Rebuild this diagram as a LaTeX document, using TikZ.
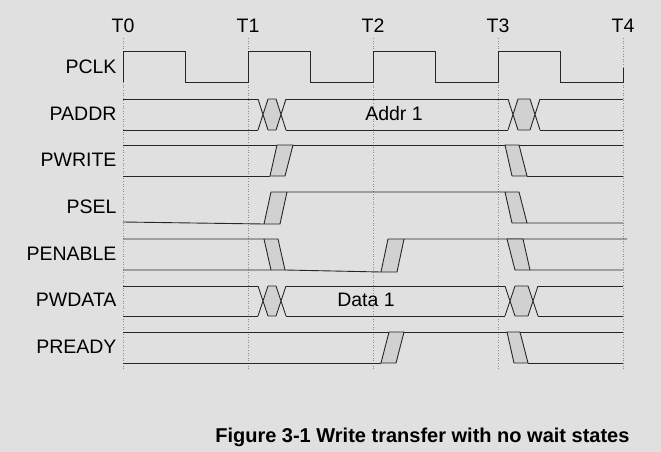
\documentclass[tikz,border=0pt]{standalone}
\usepackage{fontspec}
\setmainfont{Liberation Sans}
\begin{document}
\begin{tikzpicture}[x=1pt,y=-1pt,
  sig/.style={draw=black!85,line width=0.9pt},
  gr/.style={fill=black!18,draw=black!85,line width=0.9pt,line join=round},
  grid/.style={draw=black!45,dotted,line width=0.6pt},
  lbl/.style={anchor=east,font=\fontsize{19.5}{22}\selectfont},
  tl/.style={font=\fontsize{19.5}{22}\selectfont},
  txt/.style={font=\fontsize{19.5}{22}\selectfont}]
\fill[black!12] (0,0) rectangle (661,452);
\useasboundingbox (0,0) rectangle (661,452);
% time grid
\foreach \x/\n in {123/T0,248/T1,373/T2,498/T3,623/T4}{
  \draw[grid] (\x,38) -- (\x,370);
  \node[tl] (l\n) at (\x,26) {\n};
}
% labels
\node[lbl] (nclk) at (120,67) {PCLK};
\node[lbl] (naddr) at (120,114) {PADDR};
\node[lbl] (nwr) at (120,160) {PWRITE};
\node[lbl] (nsel) at (120,207) {PSEL};
\node[lbl] (nen) at (120,254) {PENABLE};
\node[lbl] (nwd) at (120,300) {PWDATA};
\node[lbl] (nrdy) at (120,347) {PREADY};
% PCLK
\draw[sig] (123,82) -- (123,51) -- (185,51) -- (185,82) -- (248,82) -- (248,51) -- (310,51) -- (310,82)
  -- (373,82) -- (373,51) -- (435,51) -- (435,82) -- (498,82) -- (498,51) -- (560,51) -- (560,82) -- (623,82) -- (623,68);
% bus macro
\newcommand{\busx}[4]{% a b top bottom
  \pgfmathsetmacro{\mm}{(#3+#4)/2}
  \fill[black!18] (#1+5,\mm) -- (#1+10,#3) -- (#2-10,#3) -- (#2-5,\mm) -- (#2-10,#4) -- (#1+10,#4) -- cycle;
  \draw[sig] (#1,#3) -- (#1+10,#4) (#1,#4) -- (#1+10,#3) (#2-10,#3) -- (#2,#4) (#2-10,#4) -- (#2,#3)
    (#1+10,#3) -- (#2-10,#3) (#1+10,#4) -- (#2-10,#4);
}
% PADDR
\draw[sig] (123,99) -- (258,99) (123,130) -- (258,130) (286,99) -- (508,99) (286,130) -- (508,130) (540,99) -- (623,99) (540,130) -- (623,130);
\busx{258}{286}{99}{130}
\busx{508}{540}{99}{130}
\node[txt] (addr) at (394,114) {Addr 1};
% PWDATA
\draw[sig] (123,286) -- (258,286) (123,316) -- (258,316) (286,286) -- (505,286) (286,316) -- (505,316) (538,286) -- (623,286) (538,316) -- (623,316);
\busx{258}{286}{286}{316}
\busx{505}{538}{286}{316}
\node[txt] (data) at (366,300) {Data 1};
% PWRITE
\draw[sig] (123,145) -- (623,145) (123,176) -- (270,176) (527,176) -- (623,176);
\draw[gr] (270,176) -- (285,176) -- (293,145) -- (277,145) -- cycle;
\draw[gr] (505,145) -- (519,145) -- (527,176) -- (512,176) -- cycle;
% PSEL
\draw[sig] (123,222) -- (264,224) (287,192) -- (505,192) (527,223) -- (623,223);
\draw[gr] (264,224) -- (280,224) -- (287,192) -- (271,192) -- cycle;
\draw[gr] (505,192) -- (519,192) -- (527,223) -- (512,223) -- cycle;
% PENABLE
\draw[sig] (123,239) -- (264,239) (123,270) -- (271,270) (285,270) -- (381,272) (404,239) -- (627,239) (530,270) -- (623,270);
\draw[gr] (264,239) -- (278,239) -- (285,270) -- (271,270) -- cycle;
\draw[gr] (381,272) -- (397,272) -- (404,239) -- (388,239) -- cycle;
\draw[gr] (507,239) -- (523,239) -- (530,270) -- (515,270) -- cycle;
% PREADY
\draw[sig] (123,332) -- (623,332) (123,363) -- (381,363) (528,363) -- (623,363);
\draw[gr] (381,363) -- (396,363) -- (404,332) -- (389,332) -- cycle;
\draw[gr] (507,332) -- (520,332) -- (528,363) -- (514,363) -- cycle;
% caption
\node[font=\bfseries\fontsize{20}{22}\selectfont,anchor=east] (cap) at (633,437) {Figure 3-1 Write transfer with no wait states};
\end{tikzpicture}
\end{document}
